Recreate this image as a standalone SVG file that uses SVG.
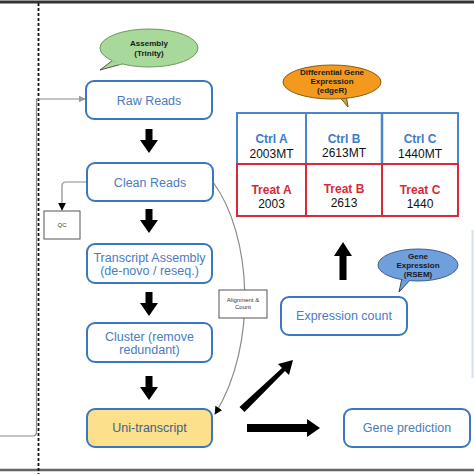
<svg xmlns="http://www.w3.org/2000/svg" width="474" height="474" viewBox="0 0 474 474">
<style>
.box{fill:#fff;stroke:#3b76c2;stroke-width:2}
.lbl{font-family:"Liberation Sans",Arial,sans-serif;font-size:12.5px;fill:#4a7cc0;text-anchor:middle}
.call{font-family:"Liberation Sans",Arial,sans-serif;font-size:8px;font-weight:bold;fill:#1a1a1a;text-anchor:middle}
.small{font-family:"Liberation Sans",Arial,sans-serif;font-size:6px;fill:#333;text-anchor:middle}
.blk{fill:#000}
.gl{fill:none;stroke:#8a8a8a;stroke-width:1.2}
.ctl{font-family:"Liberation Sans",Arial,sans-serif;font-size:12px;font-weight:bold;fill:#3a7cc6;text-anchor:middle}
.trt{font-family:"Liberation Sans",Arial,sans-serif;font-size:12px;font-weight:bold;fill:#d42a3a;text-anchor:middle}
.num{font-family:"Liberation Sans",Arial,sans-serif;font-size:12px;fill:#111;text-anchor:middle}
</style>
<defs>
<marker id="ah" viewBox="0 0 10 10" refX="9" refY="5" markerWidth="7" markerHeight="7" orient="auto" markerUnits="userSpaceOnUse">
<path d="M0,0 L10,5 L0,10 z" fill="#999"/>
</marker>
<marker id="ahb" viewBox="0 0 10 10" refX="9" refY="5" markerWidth="8" markerHeight="8" orient="auto" markerUnits="userSpaceOnUse">
<path d="M0,0 L10,5 L0,10 z" fill="#000"/>
</marker>
</defs>
<rect width="474" height="474" fill="#fff"/>
<line x1="0" y1="2" x2="474" y2="2" stroke="#333" stroke-width="3"/>
<line x1="0" y1="470" x2="474" y2="470" stroke="#666" stroke-width="2.5"/>
<line x1="472.5" y1="230" x2="472.5" y2="378" stroke="#cfe0f3" stroke-width="2"/>
<line x1="38.5" y1="3" x2="38.5" y2="474" stroke="#111" stroke-width="1.8" stroke-dasharray="3,2"/>

<g id="connectors">
<path class="gl" d="M0,436 L33,436 Q36.5,436 36.5,432 L36.5,99 L85,99" marker-end="url(#ah)"/>
<path class="gl" d="M87,182 L66,182 Q62,182 62,186 L62,210" marker-end="url(#ahb)" stroke="#777"/>
<path class="gl" d="M213,182 C252,235 258,345 215,414" marker-end="url(#ahb)" stroke="#888"/>
<polygon class="blk" points="145.5,129 152.5,129 152.5,140 158,140 149,153 140,140 145.5,140"/>
<polygon class="blk" points="145.5,209 152.5,209 152.5,220 158,220 149,233 140,220 145.5,220"/>
<polygon class="blk" points="145.5,292 152.5,292 152.5,303 158,303 149,316 140,303 145.5,303"/>
<polygon class="blk" points="145.5,376 152.5,376 152.5,387 158,387 149,400 140,387 145.5,387"/>
<polygon class="blk" points="339.5,280 346.5,280 346.5,256 352,256 343,242 334,256 339.5,256"/>
<polygon class="blk" points="247,424 307,424 307,419 320,428 307,437 307,432 247,432"/>
<polygon class="blk" points="239.5,407 244.5,412 285,371 289,375 293,360 278,364 282,368"/>
</g>

<g id="assembly-callout">
<path d="M113,60 L100,70 L122,64 z" fill="#a8d89a" stroke="#555" stroke-width="1"/>
<ellipse cx="149" cy="48" rx="49" ry="19" fill="#a8d89a" stroke="#6a9a5a" stroke-width="1"/>
<path d="M112,59 L121,64" stroke="#a8d89a" stroke-width="2.5"/>
<text class="call" x="149" y="46" font-size="8.5">Assembly</text>
<text class="call" x="149" y="56" font-size="8.5">(Trinity)</text>
</g>

<g id="raw-reads">
<rect class="box" x="86" y="81" width="126" height="38" rx="8"/>
<text class="lbl" x="149" y="105">Raw Reads</text>
</g>
<g id="clean-reads">
<rect class="box" x="87" y="163" width="126" height="38" rx="8"/>
<text class="lbl" x="150" y="187">Clean Reads</text>
</g>
<g id="qc">
<rect x="44" y="211" width="36" height="28" fill="#fff" stroke="#555" stroke-width="1"/>
<text class="small" x="62" y="227">QC</text>
</g>
<g id="transcript-assembly">
<rect class="box" x="87" y="244" width="125" height="39" rx="8"/>
<text class="lbl" x="149.5" y="262" font-size="11.5">Transcript Assembly</text>
<text class="lbl" x="149.5" y="275" font-size="11.5">(de-novo / reseq.)</text>
</g>
<g id="cluster">
<rect class="box" x="87" y="323" width="125" height="39" rx="8"/>
<text class="lbl" x="149.5" y="341" font-size="11.5">Cluster (remove</text>
<text class="lbl" x="149.5" y="354" font-size="11.5">redundant)</text>
</g>
<g id="uni-transcript">
<rect class="box" x="87" y="409" width="125" height="38" rx="8" style="fill:#fde08c"/>
<text class="lbl" x="149.5" y="432" style="fill:#3d5f88" font-size="11.5">Uni-transcript</text>
</g>
<g id="alignment-count">
<rect x="219" y="290" width="48" height="28" fill="#fff" stroke="#555" stroke-width="1"/>
<text class="small" x="243" y="302">Alignment &amp;</text>
<text class="small" x="243" y="309">Count</text>
</g>

<g id="deg-callout">
<path d="M338,95 L348,107 L346,94 z" fill="#f39a1e" stroke="#555" stroke-width="1"/>
<ellipse cx="332" cy="82" rx="49" ry="17" fill="#f39a1e" stroke="#8a5a10" stroke-width="1"/>
<path d="M339,96 L345,95" stroke="#f39a1e" stroke-width="2.5"/>
<text class="call" x="332" y="75">Differential Gene</text>
<text class="call" x="332" y="84">Expression</text>
<text class="call" x="332" y="93">(edgeR)</text>
</g>

<g id="table">
<rect x="237" y="113" width="221" height="51" fill="#fff" stroke="#4a86c8" stroke-width="2"/>
<line x1="306" y1="113" x2="306" y2="164" stroke="#4a86c8" stroke-width="2"/>
<line x1="382" y1="113" x2="382" y2="164" stroke="#4a86c8" stroke-width="2.5"/>
<rect x="237" y="164" width="221" height="52" fill="#fff" stroke="#d92a3c" stroke-width="2"/>
<line x1="306" y1="164" x2="306" y2="216" stroke="#d92a3c" stroke-width="2"/>
<line x1="382" y1="164" x2="382" y2="216" stroke="#d92a3c" stroke-width="2"/>
<text class="ctl" x="271.5" y="143">Ctrl A</text>
<text class="num" x="271.5" y="157.5">2003MT</text>
<text class="ctl" x="344" y="142.5">Ctrl B</text>
<text class="num" x="344" y="157">2613MT</text>
<text class="ctl" x="420" y="143">Ctrl C</text>
<text class="num" x="420" y="157.5">1440MT</text>
<text class="trt" x="271.5" y="193.5">Treat A</text>
<text class="num" x="271.5" y="208">2003</text>
<text class="trt" x="344" y="193">Treat B</text>
<text class="num" x="344" y="207">2613</text>
<text class="trt" x="420" y="193.5">Treat C</text>
<text class="num" x="420" y="208">1440</text>
</g>

<g id="rsem-callout">
<path d="M402,278 L399,292 L410,280 z" fill="#6f9fdc" stroke="#444" stroke-width="1"/>
<ellipse cx="418" cy="265" rx="40" ry="16" fill="#6f9fdc" stroke="#3a5f90" stroke-width="1"/>
<path d="M403,279 L409,280" stroke="#6f9fdc" stroke-width="2.5"/>
<text class="call" x="418" y="259" font-size="7.5">Gene</text>
<text class="call" x="418" y="268" font-size="7.5">Expression</text>
<text class="call" x="418" y="277" font-size="7.5">(RSEM)</text>
</g>

<g id="expression-count">
<rect class="box" x="281" y="297" width="126" height="38" rx="8"/>
<text class="lbl" x="344" y="320">Expression count</text>
</g>
<g id="gene-prediction">
<rect class="box" x="344" y="409" width="126" height="38" rx="8"/>
<text class="lbl" x="407" y="432">Gene prediction</text>
</g>
</svg>
